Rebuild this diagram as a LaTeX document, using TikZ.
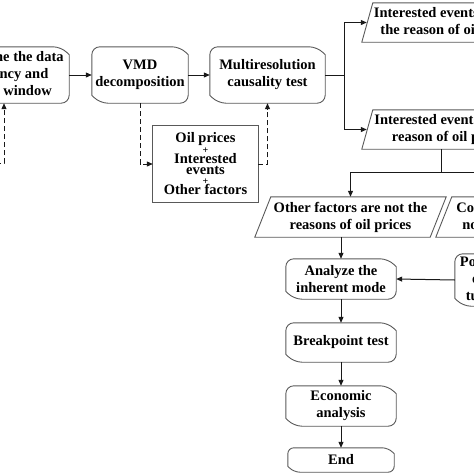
\documentclass[tikz,border=0pt]{standalone}
\usepackage{fontspec}
\setmainfont{Liberation Serif}
\usetikzlibrary{calc,arrows.meta}

\newlength{\du}
\setlength{\du}{1pt}

\definecolor{boxcolor}{rgb}{0.350000, 0.350000, 0.350000}
\definecolor{arrowcolor}{rgb}{0.100000, 0.100000, 0.100000}

\tikzset{
  flowtext/.style={font=\bfseries\fontsize{14.5}{17}\selectfont, align=center, inner sep=0pt},
  stepnode/.style={flowtext, minimum width=110\du, minimum height=40\du},
  boxline/.style={draw=boxcolor, line width=0.9\du},
  flowline/.style={draw=arrowcolor, line width=1\du},
  flowarrow/.style={flowline, -{Triangle[length=6pt,width=5pt]}},
  dasharrow/.style={flowarrow, dash pattern=on 5pt off 3pt},
}

% rounded top left / bottom right, cut top right / bottom left
\newcommand{\cutbox}[2]{%
  \draw[boxline] ($(#1.north west)+(0,#2)$) [rounded corners=#2\du] |- ($(#1.north east)+(-#2,0)$)
    [sharp corners] -- ($(#1.north east)+(0,#2)$) [rounded corners=#2\du] |- ($(#1.south west)+(#2,0)$)
    [sharp corners] -- ($(#1.south west)+(0,-#2)$) -- cycle;}
% slanted box
\newcommand{\slantbox}[2]{%
  \draw[boxline] (#1.south west) -- ($(#1.north west)+(#2,0)$) -- (#1.north east)
    -- ($(#1.south east)+(-#2,0)$) -- cycle;}
\newcommand{\plusline}{{\fontsize{10}{10}\selectfont +}}

\begin{document}
\begin{tikzpicture}[x=\du, y=-\du]
\useasboundingbox (0,0) rectangle (474,474);
\clip (0,0) rectangle (474,474);

% top row
\node[stepnode, minimum width=130\du, minimum height=56\du] (freq) at (4,75) {Determine the data\\frequency and\\sample window};
\node[stepnode, minimum width=96\du, minimum height=56\du] (vmd) at (140,75) {VMD\\decomposition};
\node[stepnode, minimum width=115\du, minimum height=56\du] (mcause) at (267.5,75) {Multiresolution\\causality test};
\node[flowtext, font=\bfseries\fontsize{14.5}{10.4}\selectfont, minimum width=105\du, minimum height=76\du] (factors) at (205.5,164)
  {Oil prices\\\plusline\\Interested\\events\\\plusline\\Other factors};

% results
\node[flowtext, minimum width=176\du, minimum height=39\du] (notreason) at (450,22.5) {Interested events are not\\the reason of oil prices};
\node[flowtext, minimum width=176\du, minimum height=39\du] (isreason) at (450,129.5) {Interested events are the\\reason of oil prices};
\node[flowtext, minimum width=191\du, minimum height=40\du] (othernot) at (350.5,217) {Other factors are not the\\reasons of oil prices};
\node[flowtext, minimum width=196\du, minimum height=40\du] (otheris) at (534,217) {Consider other factors in\\nonlinear causality test};
\node[stepnode, minimum height=52\du] (shocks) at (510,280) {Possible reasons\\of oil shocks\\turning points};

% main column
\node[stepnode] (analyze) at (341,279) {Analyze the\\inherent mode};
\node[stepnode, minimum height=39\du] (breakpt) at (341,342.5) {Breakpoint test};
\node[stepnode] (econ) at (341,406) {Economic\\analysis};
\node[stepnode, minimum width=106\du, minimum height=24\du] (theend) at (341,460) {End};

\cutbox{freq}{8}
\cutbox{vmd}{8}
\cutbox{mcause}{8}
\cutbox{shocks}{8}
\cutbox{analyze}{8}
\cutbox{breakpt}{8}
\cutbox{econ}{8}
\cutbox{theend}{6}
\draw[boxline] (factors.north west) rectangle (factors.south east);
\slantbox{notreason}{11}
\slantbox{isreason}{11}
\slantbox{othernot}{16}
\slantbox{otheris}{16}

% connectors
\coordinate (fork) at (344,75);
\coordinate (split) at (441,172);
\coordinate (prior) at (-20,163);
\draw[flowarrow] (freq.east) -- (vmd.west);
\draw[flowarrow] (vmd.east) -- (mcause.west);
\draw[flowline] (mcause.east) -- (fork);
\draw[flowarrow] (fork) |- ($(notreason.west)+(5,0)$);
\draw[flowarrow] (fork) |- ($(isreason.west)+(5,0)$);
\draw[flowline] ([xshift=-9pt]isreason.south) -- (split);
\draw[flowarrow] (split) -| (othernot.north);
\draw[flowarrow] (split) -| (otheris.north);
\draw[flowarrow] (othernot.south -| analyze.north) -- (analyze.north);
\draw[flowarrow] (shocks.west) -- (analyze.east);
\draw[flowarrow] (analyze.south) -- (breakpt.north);
\draw[flowarrow] (breakpt.south) -- (econ.north);
\draw[flowarrow] (econ.south) -- (theend.north);

% dashed feedback
\draw[dasharrow] (vmd.south) |- (factors.west);
\draw[dasharrow] (factors.east) -| (mcause.south);
\draw[dasharrow] (prior) -| (freq.south);
\end{tikzpicture}
\end{document}
